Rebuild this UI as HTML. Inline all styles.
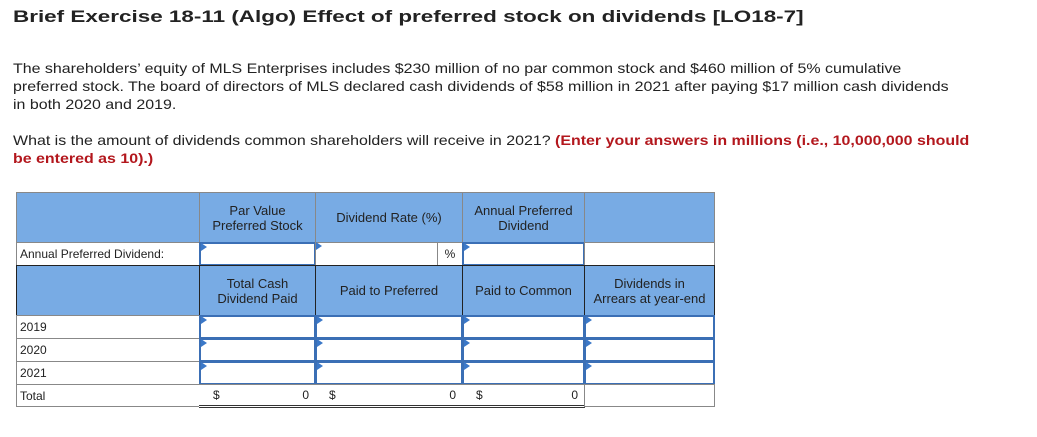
<!DOCTYPE html>
<html><head><meta charset="utf-8"><style>
body{margin:0;width:1037px;height:437px;background:#fff;position:relative;overflow:hidden;font-family:"Liberation Sans",Arial,sans-serif;color:#222}
.a{position:absolute}
.t{font-size:14px;line-height:18px;white-space:nowrap;transform:scaleX(1.14);transform-origin:left top}
.c{position:absolute;box-sizing:border-box}
.h{background:#78abe4;border:1px solid #888;display:flex;align-items:center;justify-content:center;text-align:center;font-size:13px;line-height:15px;color:#222}
.l{border:1px solid #888;background:#fff;font-size:12px;padding-left:3px;display:flex;align-items:center}
.in{border:2px solid #3b6fb5;background:#fff}
.in::before{content:"";position:absolute;left:0;top:0;border-left:6px solid #3b78c8;border-top:4px solid transparent;border-bottom:4px solid transparent;margin-top:-1px}
.tot{border-top:1px solid #888;border-bottom:3px double #333;background:#fff;font-size:12px;display:flex;align-items:center;justify-content:space-between;padding:0 6px 0 14px}
</style></head><body>
<div class="a" style="left:13px;top:7px;font-size:17px;font-weight:bold;color:#222;white-space:nowrap;transform:scaleX(1.32);transform-origin:left top">Brief Exercise 18-11 (Algo) Effect of preferred stock on dividends [LO18-7]</div>
<div class="a t" style="left:13px;top:59px">The shareholders’ equity of MLS Enterprises includes $230 million of no par common stock and $460 million of 5% cumulative<br>preferred stock. The board of directors of MLS declared cash dividends of $58 million in 2021 after paying $17 million cash dividends<br>in both 2020 and 2019.</div>
<div class="a t" style="left:13px;top:131px">What is the amount of dividends common shareholders will receive in 2021? <b style="color:#b3171d">(Enter your answers in millions (i.e., 10,000,000 should</b><br><b style="color:#b3171d">be entered as 10).)</b></div>

<div>
<div class="c h" style="left:16px;top:192px;width:184px;height:51px"></div>
<div class="c h" style="left:199px;top:192px;width:117px;height:51px">Par Value<br>Preferred Stock</div>
<div class="c h" style="left:315px;top:192px;width:148px;height:51px">Dividend Rate (%)</div>
<div class="c h" style="left:462px;top:192px;width:123px;height:51px">Annual Preferred<br>Dividend</div>
<div class="c h" style="left:584px;top:192px;width:131px;height:51px"></div>

<div class="c l" style="left:16px;top:242px;width:184px;height:24px">Annual Preferred Dividend:</div>
<div class="c in" style="left:199px;top:242px;width:117px;height:24px"></div>
<div class="c in" style="left:315px;top:242px;width:123px;height:24px;border-color:#888;border-width:1px"></div>
<div class="c l" style="left:437px;top:242px;width:26px;height:24px;justify-content:center;padding:0">%</div>
<div class="c in" style="left:462px;top:242px;width:123px;height:24px"></div>
<div class="c l" style="left:584px;top:242px;width:131px;height:24px"></div>

<div class="c h" style="left:16px;top:265px;width:184px;height:51px;border-color:#222"></div>
<div class="c h" style="left:199px;top:265px;width:117px;height:51px;border-color:#222">Total Cash<br>Dividend Paid</div>
<div class="c h" style="left:315px;top:265px;width:148px;height:51px;border-color:#222">Paid to Preferred</div>
<div class="c h" style="left:462px;top:265px;width:123px;height:51px;border-color:#222">Paid to Common</div>
<div class="c h" style="left:584px;top:265px;width:131px;height:51px;border-color:#222">Dividends in<br>Arrears at year-end</div>

<div class="c l" style="left:16px;top:315px;width:184px;height:24px">2019</div>
<div class="c in" style="left:199px;top:315px;width:117px;height:24px"></div>
<div class="c in" style="left:315px;top:315px;width:148px;height:24px"></div>
<div class="c in" style="left:462px;top:315px;width:123px;height:24px"></div>
<div class="c in" style="left:584px;top:315px;width:131px;height:24px"></div>

<div class="c l" style="left:16px;top:338px;width:184px;height:24px">2020</div>
<div class="c in" style="left:199px;top:338px;width:117px;height:24px"></div>
<div class="c in" style="left:315px;top:338px;width:148px;height:24px"></div>
<div class="c in" style="left:462px;top:338px;width:123px;height:24px"></div>
<div class="c in" style="left:584px;top:338px;width:131px;height:24px"></div>

<div class="c l" style="left:16px;top:361px;width:184px;height:24px">2021</div>
<div class="c in" style="left:199px;top:361px;width:117px;height:24px"></div>
<div class="c in" style="left:315px;top:361px;width:148px;height:24px"></div>
<div class="c in" style="left:462px;top:361px;width:123px;height:24px"></div>
<div class="c in" style="left:584px;top:361px;width:131px;height:24px"></div>

<div class="c l" style="left:16px;top:384px;width:184px;height:23px">Total</div>
<div class="c tot" style="left:199px;top:384px;width:117px;height:24px;border-right:1px solid #222"><span>$</span><span>0</span></div>
<div class="c tot" style="left:315px;top:384px;width:148px;height:24px;border-right:1px solid #222"><span>$</span><span>0</span></div>
<div class="c tot" style="left:462px;top:384px;width:123px;height:24px;border-right:1px solid #888"><span>$</span><span>0</span></div>
<div class="c l" style="left:584px;top:384px;width:131px;height:23px"></div>
</div>
</body></html>
